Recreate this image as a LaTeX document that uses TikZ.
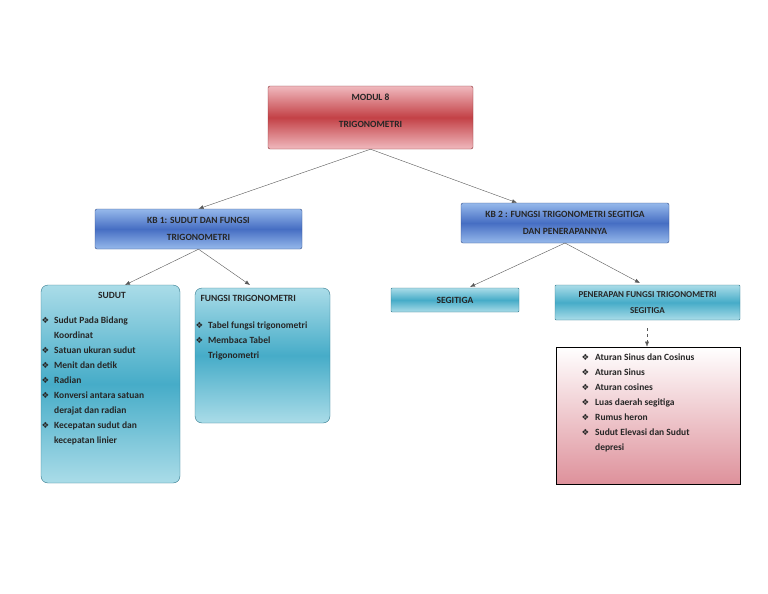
\documentclass[tikz,border=0pt]{standalone}
\usepackage{fontspec}
\setmainfont{Carlito}
\newfontfamily\djv{DejaVu Sans}
\usetikzlibrary{arrows.meta}
\definecolor{rtop}{RGB}{240,185,190}
\definecolor{rmid}{RGB}{195,65,70}
\definecolor{btop}{RGB}{150,185,235}
\definecolor{bmid}{RGB}{70,110,195}
\definecolor{ttop}{RGB}{170,220,232}
\definecolor{tmid}{RGB}{70,172,200}
\definecolor{pbot}{RGB}{222,145,155}
\newcommand{\dm}{{\djv\fontsize{8.5}{8.5}\selectfont ❖}}
\begin{document}
\begin{tikzpicture}[x=1pt,y=-1pt,
  redbox/.style={draw=rmid!70!black,top color=rtop,bottom color=rtop,middle color=rmid},
  bluebox/.style={draw=bmid!70!black,top color=btop,bottom color=btop,middle color=bmid},
  tealbox/.style={draw=tmid!70!black,rounded corners=7pt,top color=ttop,bottom color=ttop,middle color=tmid},
  txt/.style={font=\bfseries\fontsize{9.5}{15}\selectfont,align=center,text=black!85}]
\useasboundingbox (0,0) rectangle (768,594);
\fill[white] (0,0) rectangle (768,594);
\node[redbox,minimum width=205pt,minimum height=63pt,rounded corners=2pt] (m) at (370.5,117.5) {};
\node[txt] at (370.5,97) {MODUL 8};
\node[txt] at (370.5,124) {TRIGONOMETRI};
\node[bluebox,minimum width=207pt,minimum height=40pt,rounded corners=2pt,txt,font=\bfseries\fontsize{9.5}{17}\selectfont] (k1) at (198.5,229) {KB 1: SUDUT DAN FUNGSI\\TRIGONOMETRI};
\node[bluebox,minimum width=208pt,minimum height=40pt,rounded corners=2pt,txt,font=\bfseries\fontsize{9.5}{17}\selectfont] (k2) at (565,223) {KB 2 : FUNGSI TRIGONOMETRI SEGITIGA\\DAN PENERAPANNYA};
\node[tealbox,minimum width=139pt,minimum height=198pt] (s) at (110.5,384) {};
\node[tealbox,minimum width=135pt,minimum height=135pt] (f) at (262.5,355.5) {};
\node[tealbox,rounded corners=1pt,minimum width=128pt,minimum height=24pt,txt] (sg) at (455,300) {SEGITIGA};
\node[tealbox,rounded corners=1pt,minimum width=185pt,minimum height=35pt,txt,font=\bfseries\fontsize{9}{16}\selectfont] (p) at (647.5,302.5) {PENERAPAN FUNGSI TRIGONOMETRI\\SEGITIGA};
\node[draw=black,line width=0.6pt,top color=white,bottom color=pbot,minimum width=184pt,minimum height=137pt] (b) at (648,415.5) {};
\node[txt] at (112,295) {SUDUT};
\node[txt,anchor=west] at (197,298) {FUNGSI TRIGONOMETRI};
\node[txt,anchor=north west,align=left] at (38,309) {%
\begin{tabular}{@{}l@{\hspace{5pt}}l@{}}
\dm & Sudut Pada Bidang\\ & Koordinat\\
\dm & Satuan ukuran sudut\\
\dm & Menit dan detik\\
\dm & Radian\\
\dm & Konversi antara satuan\\ & derajat dan radian\\
\dm & Kecepatan sudut dan\\ & kecepatan linier
\end{tabular}};
\node[txt,anchor=north west,align=left] at (192,314) {%
\begin{tabular}{@{}l@{\hspace{5pt}}l@{}}
\dm & Tabel fungsi trigonometri\\
\dm & Membaca Tabel\\ & Trigonometri
\end{tabular}};
\node[txt,anchor=north west,align=left] at (578,346) {%
\begin{tabular}{@{}l@{\hspace{6pt}}l@{}}
\dm & Aturan Sinus dan Cosinus\\
\dm & Aturan Sinus\\
\dm & Aturan cosines\\
\dm & Luas daerah segitiga\\
\dm & Rumus heron\\
\dm & Sudut Elevasi dan Sudut\\ & depresi
\end{tabular}};
\tikzset{ar/.style={draw=black!65,line width=0.4pt,-{Latex[length=5pt,width=4pt]}}}
\draw[ar] (m.south) -- (k1.north);
\draw[ar] (m.south) -- (k2.north west -| 517,0);
\draw[ar] (k1.south) -- (125,285);
\draw[ar] (k1.south) -- (250,285);
\draw[ar] (565,243) -- (470,287);
\draw[ar] (565,243) -- (640,283);
\coordinate (pb) at (647,328);
\draw[ar,dashed] (pb) -- (b.north -| pb);
\end{tikzpicture}
\end{document}
